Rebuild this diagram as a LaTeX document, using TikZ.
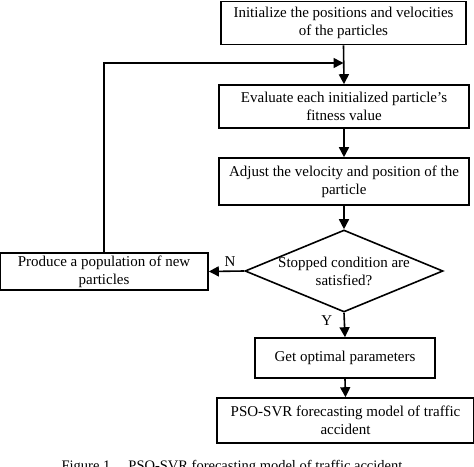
\documentclass[tikz,border=0pt]{standalone}
\usepackage{fontspec}
\setmainfont{Liberation Serif}
\usetikzlibrary{shapes.geometric,arrows.meta}
\tikzset{
  box/.style={draw, line width=1.6pt, align=center, inner sep=1pt},
  flow/.style={line width=1.6pt, -{Triangle[length=10pt,width=10pt]}},
  txt/.style={font=\fontsize{15}{18}\selectfont},
}
\begin{document}
\begin{tikzpicture}[x=1pt,y=-1pt,txt]
\useasboundingbox (0,0) rectangle (474,466);
\clip (0,0) rectangle (474,466);
\node[box, minimum width=245pt, minimum height=43pt] (b1) at (343.5,23) {Initialize the positions and velocities\\of the particles};
\node[box, minimum width=250pt, minimum height=43pt] (b2) at (344,106.5) {Evaluate each initialized particle's\\fitness value};
\node[box, minimum width=250pt, minimum height=47pt] (b3) at (344,181.5) {Adjust the velocity and position of the\\particle};
\node[draw, diamond, line width=1.6pt, minimum width=198pt, minimum height=82pt, inner sep=0pt,
      label={[align=center, txt]center:Stopped condition are\\satisfied?}] (d) at (344,271) {};
\node[box, minimum width=208pt, minimum height=37pt] (b4) at (104,271.5) {Produce a population of new\\particles};
\node[box, minimum width=180pt, minimum height=40pt] (b5) at (345,358) {Get optimal parameters};
\node[box, minimum width=257pt, minimum height=45pt] (b6) at (345.5,420.5) {PSO-SVR forecasting model of traffic\\accident};
\coordinate (j) at (b1.south |- 0,63);
\draw[flow] (b1.south) -- (b2.north);
\draw[flow] (b4.north) |- (j);
\draw[flow] (b2.south) -- (b3.north);
\draw[flow] (b3.south) -- (d.north);
\draw[flow] (d.west) -- node[above, pos=0.4, yshift=1pt] (n) {N} (b4.east);
\draw[flow] (d.south) -- node[left, pos=0.3, xshift=-8pt] (y) {Y} (b5.north);
\draw[flow] (b5.south) -- (b6.north);
\node[font=\fontsize{14.5}{16}\selectfont] (cap) at (232,467) {Figure 1\quad\ PSO-SVR forecasting model of traffic accident};
\end{tikzpicture}
\end{document}
